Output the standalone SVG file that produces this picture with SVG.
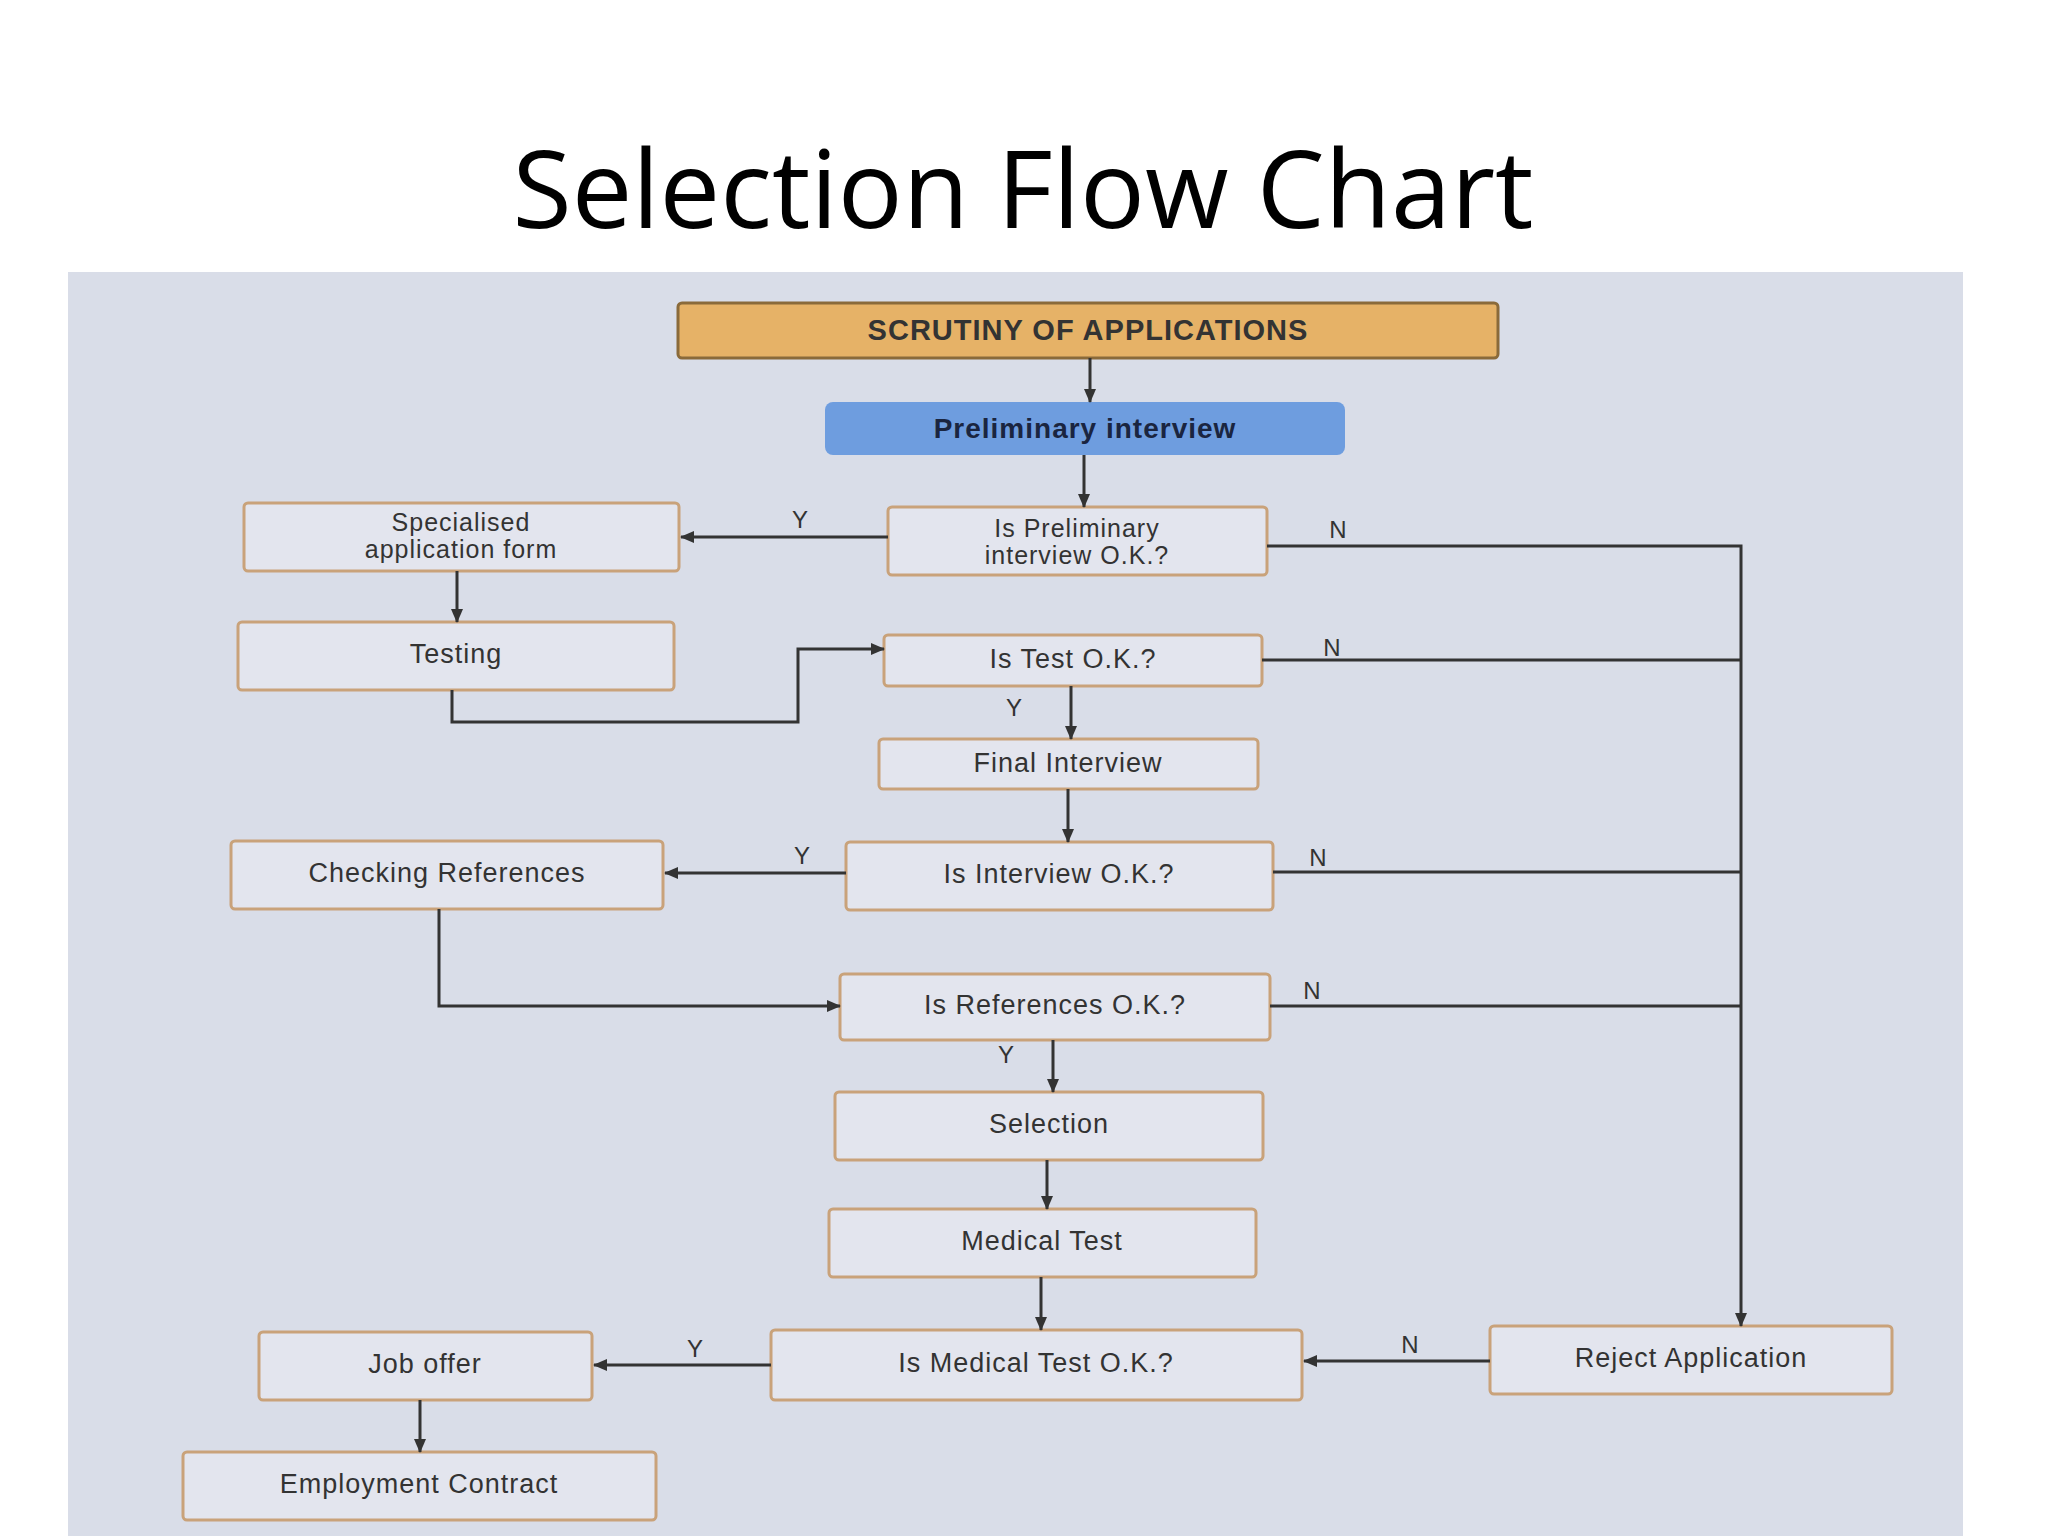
<svg xmlns="http://www.w3.org/2000/svg" width="2048" height="1536" viewBox="0 0 2048 1536">
<defs>
<marker id="ah" markerWidth="14" markerHeight="12" refX="13" refY="6" orient="auto" markerUnits="userSpaceOnUse"><path d="M0,0 L14,6 L0,12 Z" fill="#333"/></marker>
<style>
.n{fill:#e3e5ee;stroke:#c9a27a;stroke-width:3}
.t{font-family:"Liberation Sans",Arial,sans-serif;font-size:27px;fill:#333;text-anchor:middle;letter-spacing:1px}
.t2{font-family:"Liberation Sans",Arial,sans-serif;font-size:25px;fill:#333;text-anchor:middle;letter-spacing:1px}
.c{fill:none;stroke:#333;stroke-width:3;marker-end:url(#ah)}
.l{fill:none;stroke:#333;stroke-width:3}
.lb{font-family:"Liberation Sans",Arial,sans-serif;font-size:24px;fill:#333;text-anchor:middle}
</style>
</defs>
<rect width="2048" height="1536" fill="#fff"/>
<text x="1023" y="228" font-family="Open Sans,Liberation Sans,sans-serif" font-size="108" text-anchor="middle" fill="#000">Selection Flow Chart</text>
<rect x="68" y="272" width="1895" height="1264" fill="#d9dde8"/>
<g id="scrutiny"><rect x="678" y="303" width="820" height="55" rx="4" fill="#e6b267" stroke="#8a6a3a" stroke-width="3"/><text class="t" x="1088" y="340" font-weight="bold" style="font-size:29px">SCRUTINY OF APPLICATIONS</text></g>
<g id="prelim"><rect x="825" y="402" width="520" height="53" rx="8" fill="#6e9ddf"/><text class="t" x="1085" y="438" font-weight="bold" style="font-size:28px;fill:#1a2540">Preliminary interview</text></g>
<g id="isprelim"><rect class="n" x="888" y="507" width="379" height="68" rx="4"/><text class="t2" x="1077" y="537">Is Preliminary</text><text class="t2" x="1077" y="564">interview O.K.?</text></g>
<g id="specialised"><rect class="n" x="244" y="503" width="435" height="68" rx="4"/><text class="t2" x="461" y="531">Specialised</text><text class="t2" x="461" y="558">application form</text></g>
<g id="testing"><rect class="n" x="238" y="622" width="436" height="68" rx="4"/><text class="t" x="456" y="663">Testing</text></g>
<g id="istest"><rect class="n" x="884" y="635" width="378" height="51" rx="4"/><text class="t" x="1073" y="668">Is Test O.K.?</text></g>
<g id="final"><rect class="n" x="879" y="739" width="379" height="50" rx="4"/><text class="t" x="1068" y="772">Final Interview</text></g>
<g id="checking"><rect class="n" x="231" y="841" width="432" height="68" rx="4"/><text class="t" x="447" y="882">Checking References</text></g>
<g id="isinterview"><rect class="n" x="846" y="842" width="427" height="68" rx="4"/><text class="t" x="1059" y="883">Is Interview O.K.?</text></g>
<g id="isref"><rect class="n" x="840" y="974" width="430" height="66" rx="4"/><text class="t" x="1055" y="1014">Is References O.K.?</text></g>
<g id="selection"><rect class="n" x="835" y="1092" width="428" height="68" rx="4"/><text class="t" x="1049" y="1133">Selection</text></g>
<g id="medical"><rect class="n" x="829" y="1209" width="427" height="68" rx="4"/><text class="t" x="1042" y="1250">Medical Test</text></g>
<g id="ismedical"><rect class="n" x="771" y="1330" width="531" height="70" rx="4"/><text class="t" x="1036" y="1372">Is Medical Test O.K.?</text></g>
<g id="joboffer"><rect class="n" x="259" y="1332" width="333" height="68" rx="4"/><text class="t" x="425" y="1373">Job offer</text></g>
<g id="reject"><rect class="n" x="1490" y="1326" width="402" height="68" rx="4"/><text class="t" x="1691" y="1367">Reject Application</text></g>
<g id="employment"><rect class="n" x="183" y="1452" width="473" height="68" rx="4"/><text class="t" x="419" y="1493">Employment Contract</text></g>
<g id="connectors">
<path class="c" d="M1090,358 V402"/>
<path class="c" d="M1084,455 V507"/>
<path class="c" d="M888,537 H681"/>
<path class="c" d="M1267,546 H1741 V1326"/>
<path class="l" d="M1262,660 H1741"/>
<path class="l" d="M1273,872 H1741"/>
<path class="l" d="M1270,1006 H1741"/>
<path class="c" d="M457,571 V622"/>
<path class="c" d="M452,690 V722 H798 V649 H884"/>
<path class="c" d="M1071,686 V739"/>
<path class="c" d="M1068,789 V842"/>
<path class="c" d="M846,873 H665"/>
<path class="c" d="M439,909 V1006 H840"/>
<path class="c" d="M1053,1040 V1092"/>
<path class="c" d="M1047,1160 V1209"/>
<path class="c" d="M1041,1277 V1330"/>
<path class="c" d="M1490,1361 H1304"/>
<path class="c" d="M771,1365 H594"/>
<path class="c" d="M420,1400 V1452"/>
<text class="lb" x="800" y="528">Y</text>
<text class="lb" x="1338" y="538">N</text>
<text class="lb" x="1332" y="656">N</text>
<text class="lb" x="1014" y="716">Y</text>
<text class="lb" x="802" y="864">Y</text>
<text class="lb" x="1318" y="866">N</text>
<text class="lb" x="1312" y="999">N</text>
<text class="lb" x="1006" y="1063">Y</text>
<text class="lb" x="1410" y="1353">N</text>
<text class="lb" x="695" y="1357">Y</text>
</g>
</svg>
